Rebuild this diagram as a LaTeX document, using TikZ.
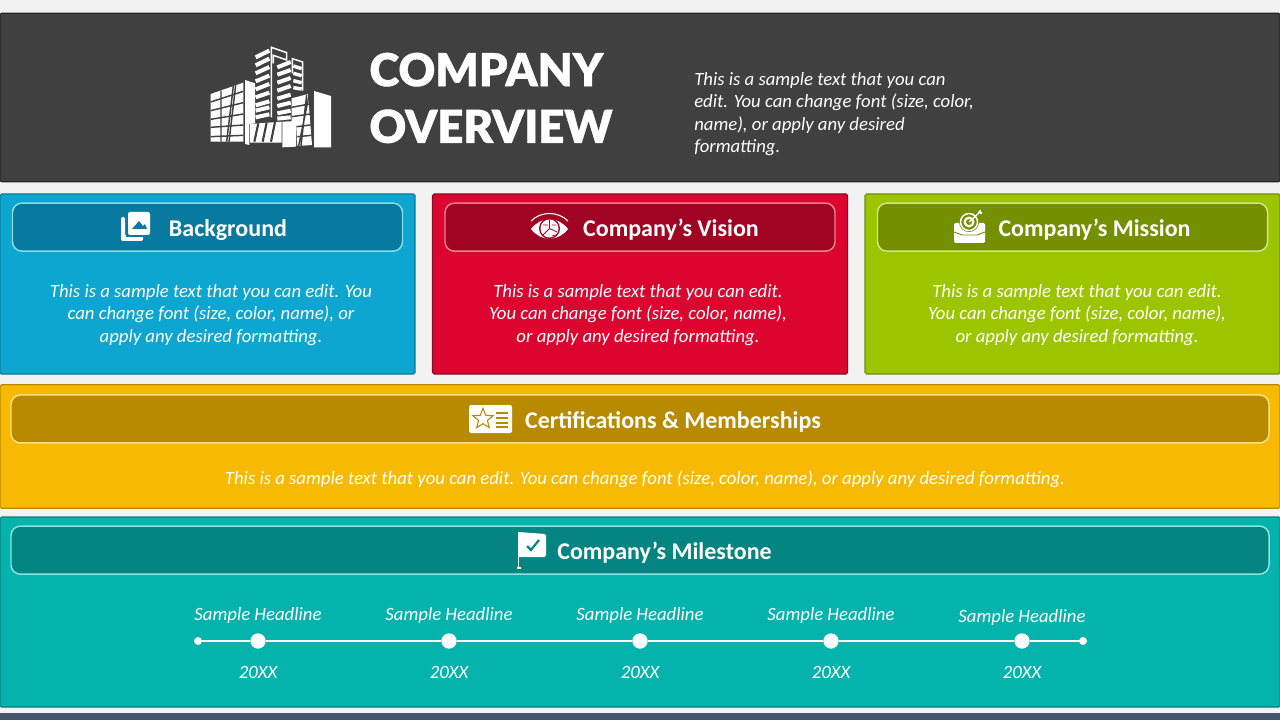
\documentclass[tikz,border=0pt]{standalone}
\usepackage{fontspec}
\setmainfont{Carlito}
\newfontfamily\titlefont[FakeBold=0.8]{Lato Black}
\usetikzlibrary{positioning}
\usetikzlibrary{shapes}
\definecolor{pagebg}{HTML}{F2F2F2}
\definecolor{footbar}{HTML}{44546A}
\definecolor{topfill}{HTML}{404040}
\definecolor{topline}{HTML}{262626}
\definecolor{bluefill}{HTML}{0CA6D0}
\definecolor{blueline}{HTML}{0C7C9C}
\definecolor{bluehead}{HTML}{087A9F}
\definecolor{blueedge}{HTML}{8ADBEC}
\definecolor{redfill}{HTML}{DC0530}
\definecolor{redline}{HTML}{8C0A24}
\definecolor{redhead}{HTML}{A10322}
\definecolor{rededge}{HTML}{F2808F}
\definecolor{greenfill}{HTML}{9CC500}
\definecolor{greenline}{HTML}{6F8C10}
\definecolor{greenhead}{HTML}{748F00}
\definecolor{greenedge}{HTML}{D2E68A}
\definecolor{yellowfill}{HTML}{F8B902}
\definecolor{yellowline}{HTML}{B88A00}
\definecolor{yellowhead}{HTML}{B88A00}
\definecolor{yellowedge}{HTML}{FBE08A}
\definecolor{tealfill}{HTML}{05B3AD}
\definecolor{tealline}{HTML}{0A7F7B}
\definecolor{tealhead}{HTML}{058581}
\definecolor{tealedge}{HTML}{8CE3DF}
\tikzstyle{panel} = [rectangle, rounded corners=1.2pt, line width=0.9pt, inner sep=0pt,
minimum height=135pt, minimum width=311.25pt]
\tikzstyle{headbar} = [rectangle, rounded corners=7pt, line width=1.1pt, inner sep=0pt,
minimum height=36pt, minimum width=292.5pt]
\tikzstyle{headtext} = [text=white, inner sep=0pt, font=\fontsize{18}{22}\selectfont\bfseries]
\tikzstyle{bodytext} = [text=white, inner sep=0pt, align=center, font=\fontsize{14.05}{16.9}\selectfont\itshape]
\tikzstyle{bigdot} = [circle, fill=white, inner sep=0pt, minimum size=11.5pt]
\tikzstyle{smalldot} = [circle, fill=white, inner sep=0pt, minimum size=6pt]
\begin{document}
\begin{tikzpicture}[x=0.75pt, y=-0.75pt]
	\useasboundingbox (0,0) rectangle (1280,720);
	\clip (0,0) rectangle (1280,720);
	\fill [pagebg] (0,0) rectangle (1280,720);
	\fill [footbar] (0,713) rectangle (1280,720);

	\node [panel, draw=topline, fill=topfill, minimum width=960pt, minimum height=126.5pt] (top) at (640,97.5) {};
	\node [inner sep=0pt, text=white, align=left, font=\titlefont\fontsize{34}{42.5}\selectfont] (title) at (491,98) {COMPANY\\OVERVIEW};
	\node [bodytext, align=left, anchor=west] (toptext) at (694,114) {This is a sample text that you can\\edit. You can change font (size, color,\\name), or apply any desired\\formatting.};

	% city icon
	\begin{scope}[shift={(190,20)}, x=0.25pt, y=-0.25pt]
		\fill [white] (62,222) -- (160,188) -- (160,365) -- (62,365) -- cycle;
		\draw [topfill, line width=1.1pt] (62,246) -- (160,214) (62,272) -- (160,248) (62,298) -- (160,282) (62,322) -- (160,315) (62,350) -- (160,346) (93,212) -- (93,365) (130,198) -- (110,365) (137,196) -- (117,365);
		\fill [white] (165,180) -- (195,190) -- (195,310) -- (178,312) -- (178,375) -- (165,372) -- cycle;
		\draw [white, line width=3pt] (197,112) -- (238,92) (197,136) -- (238,116) (197,160) -- (238,141) (197,184) -- (238,167) (197,208) -- (238,192) (197,232) -- (238,218) (197,256) -- (238,244) (197,272) -- (238,262) (197,292) -- (238,283);
		\draw [white, line width=1.1pt] (244,292) -- (244,82) -- (290,98) -- (290,120) -- (250,106) -- (250,130);
		\draw [white, line width=3pt] (262,142) -- (302,126) (262,164) -- (302,150) (262,188) -- (302,174) (262,212) -- (302,198) (262,236) -- (302,224) (262,258) -- (302,248) (262,280) -- (302,272) (262,296) -- (302,292);
		\draw [white, line width=1.1pt] (307,160) -- (307,116) -- (338,126) -- (338,212);
		\draw [white, line width=2.6pt] (310,138) -- (335,146) (310,160) -- (335,167) (310,182) -- (335,188) (310,203) -- (335,207);
		\fill [white] (180,312) -- (275,305) -- (275,368) -- (180,368) -- cycle;
		\draw [topfill, line width=1.6pt] (193,365) -- (205,310) (218,365) -- (230,308) (243,365) -- (255,306);
		\fill [white] (305,235) -- (354,222) -- (366,375) -- (322,378) -- (318,303) -- (305,303) -- cycle;
		\draw [topfill, line width=1.1pt] (305,262) -- (358,252) (306,290) -- (360,282) (320,320) -- (362,315) (322,350) -- (365,346) (358,222) -- (326,378) (350,224) -- (333,378);
		\fill [white] (277,305) -- (318,303) -- (318,380) -- (277,382) -- cycle;
		\fill [white] (372,213) -- (423,228) -- (423,382) -- (372,382) -- cycle;
	\end{scope}

	\node [panel, draw=blueline, fill=bluefill] (background) at (207.5,284) {};
	\node [headbar, draw=blueedge, fill=bluehead] (backgroundHead) [below=6.75pt of background.north] {};
	\node [headtext] (backgroundLabel) at (228,230) {Background};
	\node [bodytext] (backgroundText) at (211,315) {This is a sample text that you can edit. You\\can change font (size, color, name), or\\apply any desired formatting.};
	\fill [white, rounded corners=1pt] (121,217) -- (125,217) -- (125,236) -- (143,236) -- (143,241) -- (121,241) -- cycle;
	\fill [bluehead] (126,216) rectangle (151,237);
	\fill [white, rounded corners=1.5pt] (128,212) rectangle (150,235);
	\fill [bluehead] (132,229) -- (139,221) -- (143,226) -- (145,224) -- (147,229) -- cycle;

	\node [panel, draw=redline, fill=redfill] (vision) at (640,284) {};
	\node [headbar, draw=rededge, fill=redhead] (visionHead) [below=6.75pt of vision.north] {};
	\node [headtext] (visionLabel) at (671,230) {Company’s Vision};
	\node [bodytext] (visionText) at (638,315) {This is a sample text that you can edit.\\You can change font (size, color, name),\\or apply any desired formatting.};
	\draw [white, line width=0.8pt] (531,221) .. controls (541,211) and (558,211) .. (568,221);
	\fill [white] (531,229) .. controls (541,216) and (558,216) .. (568,229) .. controls (558,242) and (541,242) .. cycle;
	\fill [redhead] (549.5,228.5) circle [radius=10.5];
	\fill [white] (549.5,228.5) circle [radius=9];
	\draw [redhead, line width=0.6pt] (549.5,220) -- (549.5,228.5) -- (557,232) (549.5,228.5) -- (543,235) (543,225) -- (548,225) (552,225) -- (556,225) (552,236) -- (556,235);

	\node [panel, draw=greenline, fill=greenfill] (mission) at (1072.5,284) {};
	\node [headbar, draw=greenedge, fill=greenhead] (missionHead) [below=6.75pt of mission.north] {};
	\node [headtext] (missionLabel) at (1094.5,230) {Company’s Mission};
	\node [bodytext] (missionText) at (1077,315) {This is a sample text that you can edit.\\You can change font (size, color, name),\\or apply any desired formatting.};
	\fill [white, rounded corners=1pt] (954,223) -- (985,223) -- (985,243) -- (954,243) -- cycle;
	\draw [greenhead, line width=0.7pt] (954,232) -- (962,235) -- (977,235) -- (985,232);
	\fill [greenhead] (969,222) circle [radius=10];
	\draw [white, line width=1.1pt] (969,222) circle [radius=8.5];
	\fill [white] (969,222) circle [radius=5.5];
	\fill [greenhead] (969,222) circle [radius=3];
	\draw [white, line width=1pt] (969,222) -- (980,212);
	\draw [white, line width=1pt] (978,212) -- (982,213) (980,210) -- (981,214);

	\node [panel, draw=yellowline, fill=yellowfill, minimum width=960pt, minimum height=92.5pt] (certs) at (640,446.5) {};
	\node [headbar, draw=yellowedge, fill=yellowhead, minimum width=943.5pt] (certsHead) [below=7.5pt of certs.north] {};
	\node [headtext] (certsLabel) at (673,422) {Certifications \& Memberships};
	\node [bodytext] (certsText) at (645,479) {This is a sample text that you can edit. You can change font (size, color, name), or apply any desired formatting.};
	\node [fill=white, rounded corners=1.5pt, inner sep=0pt, minimum width=32.25pt, minimum height=21pt] (certsCard) at (490.5,419) {};
	\node [star, star points=5, star point ratio=2.3, draw=yellowhead, line width=0.8pt, inner sep=0pt, minimum size=16pt] (certsStar) at (483,419) {};
	\draw [yellowhead, line width=0.8pt] (496,413) -- (508,413) (496,418) -- (508,418) (496,423) -- (508,423) (496,427) -- (508,427);

	\node [panel, draw=tealline, fill=tealfill, minimum width=960pt, minimum height=142.5pt] (milestone) at (640,612) {};
	\node [headbar, draw=tealedge, fill=tealhead, minimum width=943.5pt] (milestoneHead) [below=6.75pt of milestone.north] {};
	\node [headtext] (milestoneLabel) at (664.5,553) {Company’s Milestone};
	\fill [white, rounded corners=1pt] (518,532) -- (546,534) -- (546,557) -- (518,557) -- cycle;
	\draw [white, line width=0.9pt] (518.5,532) -- (518.5,568) (517,568) -- (521,568);
	\draw [tealhead, line width=1.6pt] (527,546) -- (531,550) -- (539,540);

	\node [smalldot] (start) at (198,641) {};
	\node [bigdot] (m1) at (258,641) {};
	\node [bigdot] (m2) at (449,641) {};
	\node [bigdot] (m3) at (640,641) {};
	\node [bigdot] (m4) at (831,641) {};
	\node [bigdot] (m5) at (1022,641) {};
	\node [smalldot] (end) at (1083,641) {};
	\draw [white, line width=1.5pt] (start) -- (m1);
	\draw [white, line width=1.5pt] (m1) -- (m2);
	\draw [white, line width=1.5pt] (m2) -- (m3);
	\draw [white, line width=1.5pt] (m3) -- (m4);
	\draw [white, line width=1.5pt] (m4) -- (m5);
	\draw [white, line width=1.5pt] (m5) -- (end);

	\node [bodytext] (h1) [above=7pt of m1] {Sample Headline};
	\node [bodytext] (h2) [above=7pt of m2] {Sample Headline};
	\node [bodytext] (h3) [above=7pt of m3] {Sample Headline};
	\node [bodytext] (h4) [above=7pt of m4] {Sample Headline};
	\node [bodytext] (h5) [above=5.5pt of m5] {Sample Headline};
	\node [bodytext] (y1) [below=12.7pt of m1] {20XX};
	\node [bodytext] (y2) [below=12.7pt of m2] {20XX};
	\node [bodytext] (y3) [below=12.7pt of m3] {20XX};
	\node [bodytext] (y4) [below=12.7pt of m4] {20XX};
	\node [bodytext] (y5) [below=12.7pt of m5] {20XX};
\end{tikzpicture}
\end{document}
